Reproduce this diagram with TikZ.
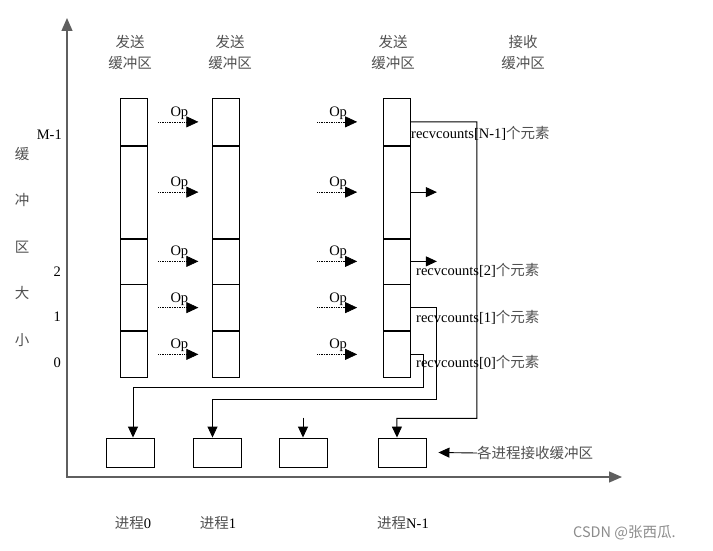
\documentclass[tikz,border=0pt]{standalone}
\usepackage{fontspec}
\setmainfont{Liberation Serif}
\newfontfamily\cjk{Noto Sans CJK SC}
\usepackage{tikz}
\usetikzlibrary{arrows.meta,positioning}
\definecolor{axisgray}{RGB}{95,95,95}
\definecolor{zhgray}{RGB}{80,80,80}
\newcommand{\zh}[1]{{\cjk\color{zhgray}#1}}

\begin{document}
\begin{tikzpicture}[x=1pt,y=-1pt,node distance=0,
      font=\fontsize{14.5}{17}\selectfont,
      cell/.style={draw,line width=.75pt,minimum width=27pt,inner sep=0,anchor=north},
      rbox/.style={draw,line width=.9pt,minimum width=48pt,minimum height=29pt,inner sep=0},
      axis/.style={draw=axisgray,line width=1.3pt,{Triangle[length=13pt,width=11pt]}-{Triangle[length=13pt,width=11pt]}},
      opline/.style={densely dotted,line width=.7pt,-{Triangle[length=12pt,width=11pt]}},
      oplbl/.style={midway,above,inner sep=2pt,xshift=1pt},
      flow/.style={line width=.9pt,-{Triangle[length=11pt,width=10pt]}},
      cnt/.style={anchor=west,inner sep=0},
      head/.style={align=center,font=\fontsize{14.5}{21}\selectfont}]
      \useasboundingbox (0,0) rectangle (713,551);
      \coordinate (ytip) at (67,18);
      \coordinate (o) at (67,477);
      \coordinate (xtip) at (622,477);
      \draw[axis] (ytip) -- (o) -- (xtip);

      \node[head] (h0) at (130,52.5) {\zh{发送}\\\zh{缓冲区}};
      \node[head] (h1) at (230,52.5) {\zh{发送}\\\zh{缓冲区}};
      \node[head] (hn) at (393,52.5) {\zh{发送}\\\zh{缓冲区}};
      \node[head] (hr) at (523,52.5) {\zh{接收}\\\zh{缓冲区}};

      \node[align=center,font=\fontsize{14.5}{46.5}\selectfont] (ylbl) at (22,247)
        {\zh{缓}\\\zh{冲}\\\zh{区}\\\zh{大}\\\zh{小}};
      \node[anchor=east,inner sep=0] (tm) at (62,135) {M-1};
      \node[anchor=east,inner sep=0] (t2) at (61,272) {2};
      \node[anchor=east,inner sep=0] (t1) at (61,317) {1};
      \node[anchor=east,inner sep=0] (t0) at (61,363) {0};

      \node[cell,minimum height=47pt] (a-top) at (133.5,98) {};
      \node[cell,minimum height=92pt,below=of a-top] (a-mid) {};
      \node[cell,minimum height=45pt,below=of a-mid] (a-2) {};
      \node[cell,minimum height=46pt,below=of a-2] (a-1) {};
      \node[cell,minimum height=46pt,below=of a-1] (a-0) {};

      \node[cell,minimum height=47pt] (b-top) at (226,98) {};
      \node[cell,minimum height=92pt,below=of b-top] (b-mid) {};
      \node[cell,minimum height=45pt,below=of b-mid] (b-2) {};
      \node[cell,minimum height=46pt,below=of b-2] (b-1) {};
      \node[cell,minimum height=46pt,below=of b-1] (b-0) {};

      \node[cell,minimum height=47pt] (n-top) at (397,98) {};
      \node[cell,minimum height=92pt,below=of n-top] (n-mid) {};
      \node[cell,minimum height=45pt,below=of n-mid] (n-2) {};
      \node[cell,minimum height=46pt,below=of n-2] (n-1) {};
      \node[cell,minimum height=46pt,below=of n-1] (n-0) {};

      \draw[opline] ([xshift=11pt]a-top.east) -- ++(40,0) node[oplbl] {Op};
      \draw[opline] ([xshift=11pt]a-mid.east) -- ++(40,0) node[oplbl] {Op};
      \draw[opline] ([xshift=11pt]a-2.east) -- ++(40,0) node[oplbl] {Op};
      \draw[opline] ([xshift=11pt]a-1.east) -- ++(40,0) node[oplbl] {Op};
      \draw[opline] ([xshift=11pt]a-0.east) -- ++(40,0) node[oplbl] {Op};
      \draw[opline] ([xshift=-66pt]n-top.west) -- ++(40,0) node[oplbl] {Op};
      \draw[opline] ([xshift=-66pt]n-mid.west) -- ++(40,0) node[oplbl] {Op};
      \draw[opline] ([xshift=-66pt]n-2.west) -- ++(40,0) node[oplbl] {Op};
      \draw[opline] ([xshift=-66pt]n-1.west) -- ++(40,0) node[oplbl] {Op};
      \draw[opline] ([xshift=-66pt]n-0.west) -- ++(40,0) node[oplbl] {Op};

      \draw[flow] (n-mid.east) -- ++(26,0);
      \draw[flow] (n-2.east) -- ++(26,0);

      \node[cnt] (cn) at (411,133) {recvcounts[N-1]\zh{个元素}};
      \node[cnt] (c2) at (416,270) {recvcounts[2]\zh{个元素}};
      \node[cnt] (c1) at (416,317) {recvcounts[1]\zh{个元素}};
      \node[cnt] (c0) at (416,362) {recvcounts[0]\zh{个元素}};

      \node[rbox] (r0) at (130,452.5) {};
      \node[rbox] (r1) at (217.5,452.5) {};
      \node[rbox] (r2) at (303,452.5) {};
      \node[rbox] (rn) at (402,452.5) {};

      \draw[flow] (n-top.east) -- ++(66,0) -- ++(0,296.5) -- ++(-80,0) -- ([xshift=-5pt]rn.north);
      \draw[flow] (n-1.east) -- ++(26,0) -- ++(0,92) -| ([xshift=-5pt]r1.north);
      \draw[flow] (n-0.east) -- ++(13,0) -- ++(0,33) -| ([xshift=3pt]r0.north);
      \draw[flow] ([yshift=20pt]r2.north) -- (r2.north);

      \node[cnt] (rlbl) at (477,453) {\zh{各进程接收缓冲区}};
      \draw[flow] (rlbl.west) -- ([xshift=12pt]rn.east);

      \node (p0) at (133,523) {\zh{进程}0};
      \node (p1) at (218,523) {\zh{进程}1};
      \node (pn) at (403,523) {\zh{进程}N-1};

      \node[anchor=west,inner sep=0,text=black!45] (wm) at (573,533) {\cjk CSDN @张西瓜.};
    \end{tikzpicture}
\end{document}
